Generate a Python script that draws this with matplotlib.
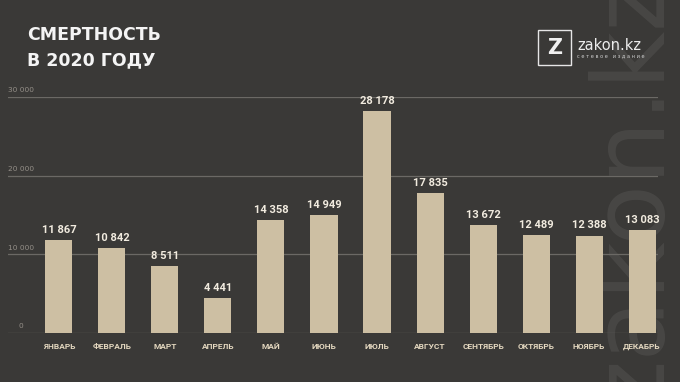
import matplotlib.pyplot as plt
from matplotlib.patches import Rectangle

months = ["ЯНВАРЬ", "ФЕВРАЛЬ", "МАРТ", "АПРЕЛЬ", "МАЙ", "ИЮНЬ",
          "ИЮЛЬ", "АВГУСТ", "СЕНТЯБРЬ", "ОКТЯБРЬ", "НОЯБРЬ", "ДЕКАБРЬ"]
deaths = [11867, 10842, 8511, 4441, 14358, 14949,
          28178, 17835, 13672, 12489, 12388, 13083]
yticks = [0, 10000, 20000, 30000]
ytick_labels = ["0", "10 000", "20 000", "30 000"]

bg = "#3a3937"
bar_color = "#cdbfa3"
label_font = ["Roboto", "DejaVu Sans"]

W, H = 680, 382
fig = plt.figure(figsize=(W / 100, H / 100), dpi=100, facecolor=bg)

# watermark on the right, behind the bars
fig.text(682 / W, 0.5, "zakon.kz", rotation=90, fontsize=72,
         color="#484745", ha="right", va="center", family="DejaVu Sans",
         zorder=-1)

ax = fig.add_axes([8 / W, 49 / H, 650 / W, 236 / H])
ax.set_facecolor("none")
ax.set_xlim(-0.96, 11.3)
ax.set_ylim(0, 30000)
for s in ax.spines.values():
    s.set_visible(False)
ax.set_xticks([])
ax.set_yticks([])

for v, lab in zip(yticks, ytick_labels):
    ax.axhline(v, color="#6b6965", lw=0.9, zorder=0)
    ax.text(13 / 650, v + 450, lab, transform=ax.get_yaxis_transform(),
            ha="center", va="bottom", fontsize=5.3, color="#948f88")

x = range(len(months))
ax.bar(x, deaths, width=0.51, color=bar_color, zorder=2)

for i, (m, d) in enumerate(zip(months, deaths)):
    ax.text(i, d + 650, f"{d:,}".replace(",", " "), ha="center", va="bottom",
            fontsize=8, fontweight="bold", color="#f1ebdf", family=label_font,
            clip_on=False)
    ax.text(i, -1700, m, ha="center", va="center", fontsize=6,
            fontweight="bold", color="#e4d8c0", family=label_font, clip_on=False)

# title
fig.text(27 / W, 1 - 35 / H, "СМЕРТНОСТЬ", fontsize=12.5, fontweight="bold",
         color="#f4f4f4", va="center", ha="left")
fig.text(27 / W, 1 - 60 / H, "В 2020 ГОДУ", fontsize=12.5, fontweight="bold",
         color="#f4f4f4", va="center", ha="left")

# logo
fig.patches.append(Rectangle((538 / W, 1 - 65 / H), 33 / W, 35 / H,
                             transform=fig.transFigure, fill=False,
                             edgecolor="#e6e6e6", lw=1.0))
fig.text(554.5 / W, 1 - 47.5 / H, "Z", fontsize=15, fontweight="bold",
         color="#f0f0f0", ha="center", va="center")
fig.text(577 / W, 1 - 45 / H, "zakon.kz", fontsize=10.5, color="#ececec",
         ha="left", va="center")
fig.text(577 / W, 1 - 56 / H, "с е т е в о е   и з д а н и е", fontsize=3.6,
         color="#cfcfcf", ha="left", va="center")

fig.savefig("out.png", dpi=100, facecolor=bg)
